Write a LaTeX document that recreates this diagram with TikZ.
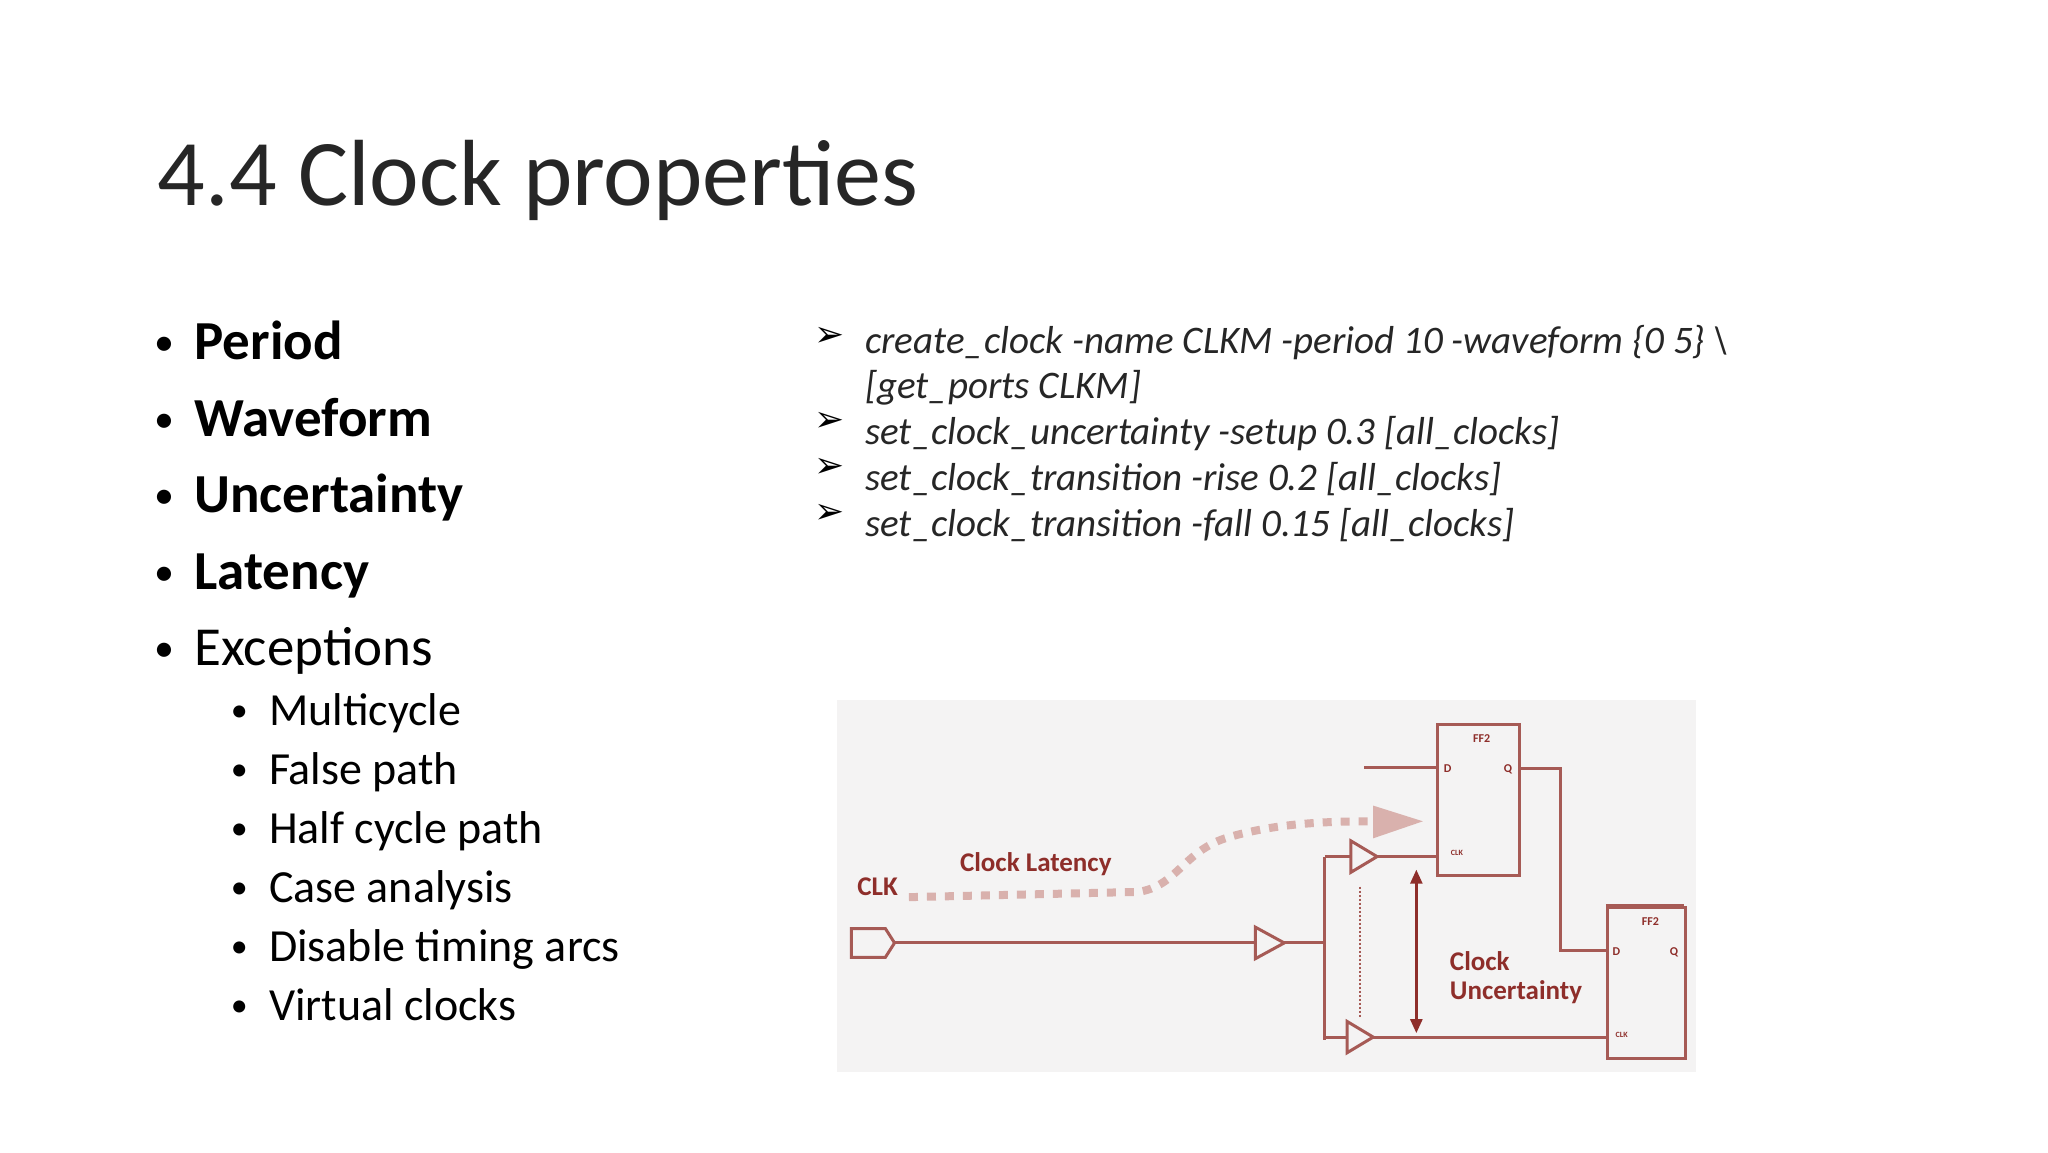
\documentclass[tikz,border=0pt]{standalone}
\usepackage{fontspec}
\setmainfont{Carlito}
\usetikzlibrary{arrows.meta}
\definecolor{wire}{HTML}{A65A55}
\definecolor{lbl}{HTML}{8E2E2A}
\definecolor{dashc}{HTML}{D9B1AD}
\definecolor{bg}{HTML}{F4F3F3}
\newfontfamily\djv{DejaVu Sans}
\tikzset{
  title/.style={anchor=base west,font=\fontsize{94}{110}\selectfont,text=black!85},
  bul/.style={anchor=base west,font=\fontsize{55}{65}\selectfont\bfseries},
  bulr/.style={anchor=base west,font=\fontsize{55}{65}\selectfont},
  sub/.style={anchor=base west,font=\fontsize{46}{55}\selectfont},
  dot/.style={anchor=base,font=\fontsize{40}{45}\selectfont},
  cmd/.style={anchor=base west,font=\fontsize{39}{46}\selectfont\itshape,text=black!85},
  arr/.style={anchor=base,font=\fontsize{36}{40}\selectfont\bfseries},
  w/.style={draw=wire,line width=3pt},
  ff/.style={draw=wire,line width=3pt,fill=bg},
  tl/.style={font=\fontsize{12}{14}\selectfont\bfseries,text=lbl},
  dl/.style={font=\fontsize{27}{32}\selectfont\bfseries,text=lbl},
}
\begin{document}
\begin{tikzpicture}[x=1.3078pt,y=-1.3078pt]
\useasboundingbox[fill=white] (0,0) rectangle (1566,880.9);
\node[title] (t) at (118,157) {4.4 Clock properties};
% left bullets
\foreach \y/\s [count=\i] in {275/Period,334/Waveform,392/Uncertainty,451/Latency}{
  \node[dot] (b\i) at (126,\y-3) {•};
  \node[bul] (l\i) at (146,\y) {\s};
}
\node[dot] (b5) at (126,506) {•};
\node[bulr] (l5) at (146,509) {Exceptions};
\foreach \y/\s [count=\i] in {555/Multicycle,600/False path,645/Half cycle path,690/Case analysis,735/Disable timing arcs,780/Virtual clocks}{
  \node[dot,font=\fontsize{34}{40}\selectfont] (sb\i) at (183,\y-3) {•};
  \node[sub] (s\i) at (203,\y) {\s};
}
% commands
\foreach \y/\n in {265/1,330/2,365/3,400/4}{
  \node[arr] (a\n) at (634,\y) {\djv ➢};
}
\node[cmd] (c1) at (659,270) {create\_clock -name CLKM -period 10 -waveform \{0 5\} \textbackslash};
\node[cmd] (c1b) at (659,305) {[get\_ports CLKM]};
\node[cmd] (c2) at (659,340) {set\_clock\_uncertainty -setup 0.3 [all\_clocks]};
\node[cmd] (c3) at (659,375) {set\_clock\_transition -rise 0.2 [all\_clocks]};
\node[cmd] (c4) at (659,410) {set\_clock\_transition -fall 0.15 [all\_clocks]};
% diagram
\fill[bg] (640,535) rectangle (1297,820);
\coordinate (pin) at (684,721);
\draw[w,fill=bg] (651,710) -- (677,710) -- (684,721) -- (677,732) -- (651,732) -- cycle;
\draw[w] (pin) -- (960,721);
\draw[w,fill=bg] (960,709) -- (982,721) -- (960,733) -- cycle;
\draw[w] (982,721) -- (1013,721);
\draw[w] (1013,655) -- (1013,795);
\draw[w] (1013,655) -- (1033,655);
\draw[w,fill=bg] (1033,643) -- (1053,655) -- (1033,667) -- cycle;
\draw[w] (1053,655) -- (1100,655);
\draw[w] (1013,793) -- (1030,793);
\draw[w,fill=bg] (1030,781) -- (1050,793) -- (1030,805) -- cycle;
\draw[w] (1050,793) -- (1228,793);
\draw[wire,line width=2pt,dotted] (1040,678) -- (1040,778);
% flip flops
\node[ff,minimum width=63*1.3078pt,minimum height=115*1.3078pt,anchor=north west] (f1) at (1098,553) {};
\node[tl] at (1133,565) {FF2};
\node[tl] at (1107,588) {D};
\node[tl] at (1153,588) {Q};
\node[tl,font=\fontsize{8}{9}\selectfont\bfseries] at (1114,652) {CLK};
\node[ff,minimum width=60*1.3078pt,minimum height=115*1.3078pt,anchor=north west] (f2) at (1228,693) {};
\draw[wire,line width=5pt] (1228,693) -- (1288,693);
\node[tl] at (1262,705) {FF2};
\node[tl] at (1236,728) {D};
\node[tl] at (1280,728) {Q};
\node[tl,font=\fontsize{8}{9}\selectfont\bfseries] at (1240,791) {CLK};
\draw[w] (1043,587) -- (1098,587);
\draw[w] (1161,588) -- (1193,588) -- (1193,727) -- (1228,727);
% uncertainty arrow
\draw[draw=lbl,line width=2.5pt,{Triangle[length=14pt,width=12pt]}-{Triangle[length=14pt,width=12pt]}] (1083,665) -- (1083,790);
\node[dl,anchor=base west] (cu) at (1106,742) {Clock};
\node[dl,anchor=base west] (cu2) at (1106,764) {Uncertainty};
% latency
\node[dl] (clk) at (671,678) {CLK};
\node[dl] (lat) at (792,661) {Clock Latency};
\draw[dashc,line width=8pt,dash pattern=on 9pt off 9pt] (695,686) -- (870,682) .. controls (900,678) and (905,650) .. (940,640) .. controls (975,630) and (1010,628) .. (1050,628);
\fill[dashc] (1050,616) -- (1088,628) -- (1050,641) -- cycle;
\end{tikzpicture}
\end{document}
